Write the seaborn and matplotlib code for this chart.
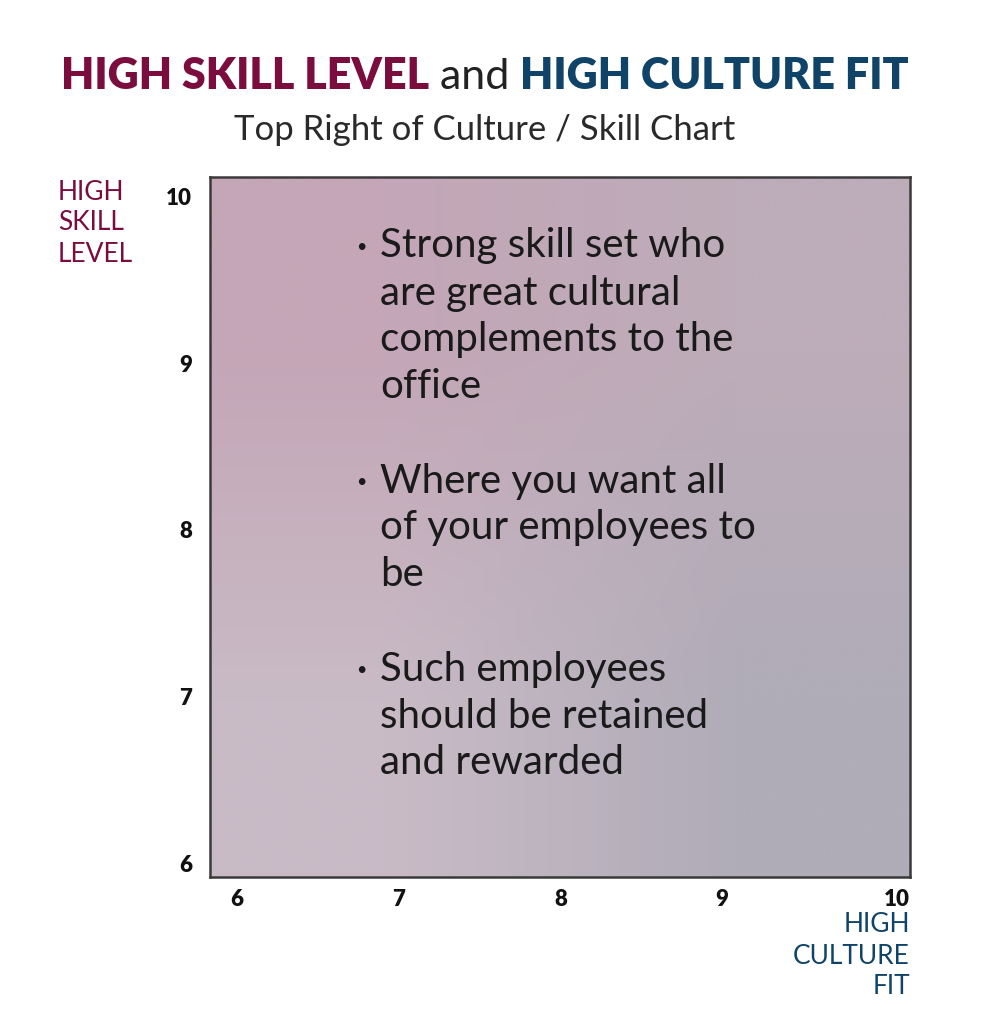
import matplotlib
matplotlib.use("Agg")
import matplotlib.pyplot as plt
import seaborn as sns
import numpy as np
from matplotlib.colors import to_rgb
from matplotlib.transforms import ScaledTranslation
from matplotlib.offsetbox import TextArea, HPacker, AnchoredOffsetbox

# ---- data ----
x_ticks = [6, 7, 8, 9, 10]
y_ticks = [6, 7, 8, 9, 10]
title_left = "HIGH SKILL LEVEL"
title_mid = " and "
title_right = "HIGH CULTURE FIT"
subtitle = "Top Right of Culture / Skill Chart"
y_label_lines = ["HIGH", "SKILL", "LEVEL"]
x_label_lines = ["HIGH", "CULTURE", "FIT"]
bullets = [
    ["Strong skill set who", "are great cultural", "complements to the", "office"],
    ["Where you want all", "of your employees to", "be"],
    ["Such employees", "should be retained", "and rewarded"],
]
# gradient corner colours (top-left, top-right / bottom-left, bottom-right)
grad_colors = [["#c4a6b7", "#bdacb9"], ["#c9bbc6", "#b0acb8"]]

MAROON = "#7a0c3e"
NAVY = "#0f4468"

sns.set_theme(style="white")
plt.rcParams['font.family'] = ['Lato', 'DejaVu Sans']

fig = plt.figure(figsize=(9.9, 10.24), dpi=100)
ax = fig.add_axes([210/990, (1024-877)/1024, 700/990, 700/1024])

xlim = (5.833, 10.163)
ylim = (5.916, 10.12)

# gradient background
img = np.array([[to_rgb(c) for c in row] for row in grad_colors])
ax.imshow(img, extent=[xlim[0], xlim[1], ylim[0], ylim[1]], aspect='auto',
          interpolation='bilinear', origin='upper', zorder=0)
sns.despine(ax=ax, top=False, right=False, left=False, bottom=False)
ax.set_xlim(*xlim)
ax.set_ylim(*ylim)
for s in ax.spines.values():
    s.set_color("#3a3a3a")
    s.set_linewidth(1.8)

ax.set_xticks(x_ticks)
ax.set_yticks(y_ticks)
ax.set_xticklabels([str(v) for v in x_ticks], fontsize=16, fontweight='heavy', color="#111111")
ax.set_yticklabels([str(v) for v in y_ticks], fontsize=16, fontweight='heavy', color="#111111")
ax.tick_params(axis='x', length=0, pad=9)
ax.tick_params(axis='y', length=0, pad=13)
ax.grid(False)
last = ax.get_xticklabels()[-1]
last.set_transform(last.get_transform() + ScaledTranslation(13/100, 0, fig.dpi_scale_trans))

# title composed of three coloured parts
pA = TextArea(title_left, textprops=dict(color=MAROON, fontsize=31, fontweight='heavy'))
pB = TextArea(title_mid, textprops=dict(color="#222222", fontsize=31, fontweight='normal'))
pC = TextArea(title_right, textprops=dict(color=NAVY, fontsize=31, fontweight='heavy'))
box = HPacker(children=[pA, pB, pC], align="baseline", pad=0, sep=0)
ab = AnchoredOffsetbox(loc='center', child=box, frameon=False,
                       bbox_to_anchor=(485/990, 1 - 76/1024), bbox_transform=fig.transFigure,
                       pad=0, borderpad=0)
fig.add_artist(ab)

fig.text(485/990, 1 - 130/1024, subtitle, ha='center', va='center',
         fontsize=25, fontweight='normal', color="#2a2a2a")

# axis labels
for i, line in enumerate(y_label_lines):
    fig.text(58/990, 1 - (192 + i*31)/1024, line, ha='left', va='center',
             fontsize=19, color=MAROON)
for i, line in enumerate(x_label_lines):
    fig.text(910/990, 1 - (925 + i*31)/1024, line, ha='right', va='center',
             fontsize=19, color=NAVY)

# bullets
line_step = 47
y = 246
for para in bullets:
    fig.text(361/990, 1 - (y + 1)/1024, "•", ha='center', va='center', fontsize=13, color="#1a1a1a")
    for line in para:
        fig.text(380/990, 1 - y/1024, line, ha='left', va='center',
                 fontsize=29, fontweight='normal', color="#1a1a1a")
        y += line_step
    y += line_step

fig.savefig("out.png", dpi=100)
